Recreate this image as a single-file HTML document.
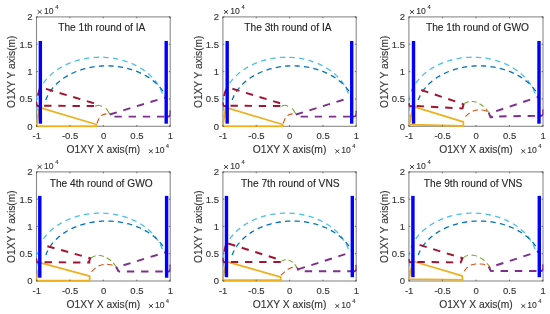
<!DOCTYPE html>
<html><head><meta charset="utf-8"><style>
html,body{margin:0;padding:0;background:#fff;}
svg{display:block;filter:blur(0.3px);}
text{stroke:#333;stroke-width:0.12px;}
</style></head><body>
<svg width="550" height="314" viewBox="0 0 550 314" style="font-family:'Liberation Sans',sans-serif;">
<defs><clipPath id="clip0"><rect x="-0.4" y="-1.2" width="134.50" height="111.80"/></clipPath><clipPath id="clip1"><rect x="-0.4" y="-1.2" width="134.10" height="111.80"/></clipPath><clipPath id="clip2"><rect x="-0.4" y="-1.2" width="134.90" height="111.80"/></clipPath><clipPath id="clip3"><rect x="-0.4" y="-1.2" width="134.50" height="111.50"/></clipPath><clipPath id="clip4"><rect x="-0.4" y="-1.2" width="134.10" height="111.50"/></clipPath><clipPath id="clip5"><rect x="-0.4" y="-1.2" width="134.90" height="111.50"/></clipPath></defs>
<rect width="550" height="314" fill="#fff"/>
<g transform="translate(36.50 16.90)">
<rect x="0" y="0" width="133.70" height="109.40" fill="none" stroke="#8a8a8a" stroke-width="1.1"/>
<g clip-path="url(#clip0)"><g transform="scale(1.0000 1.0000)">
<path d="M0.80 99.50 L0.55 92.00 L0.25 86.00 L-0.08 82.17 L0.29 80.48 L0.74 78.79 L1.27 77.12 L1.87 75.47 L2.55 73.83 L3.31 72.21 L4.13 70.61 L5.04 69.03 L6.01 67.48 L7.05 65.96 L8.17 64.46 L9.35 63.00 L10.60 61.57 L11.91 60.17 L13.28 58.81 L14.72 57.48 L16.22 56.20 L17.78 54.95 L19.39 53.75 L21.06 52.59 L22.78 51.48 L24.54 50.41 L26.36 49.39 L28.22 48.42 L30.13 47.50 L32.08 46.64 L34.06 45.82 L36.09 45.06 L38.14 44.35 L40.23 43.70 L42.35 43.10 L44.49 42.56 L46.65 42.08 L48.84 41.65 L51.04 41.29 L53.26 40.98 L55.50 40.73 L57.74 40.55 L59.99 40.42 L62.24 40.35 L64.50 40.34 L66.76 40.40 L69.01 40.51 L71.25 40.68 L73.49 40.92 L75.71 41.21 L77.92 41.56 L80.11 41.97 L82.28 42.44 L84.43 42.96 L86.55 43.55 L88.65 44.18 L90.71 44.88 L92.74 45.63 L94.74 46.43 L96.69 47.29 L98.61 48.19 L100.48 49.15 L102.31 50.16 L104.09 51.21 L105.83 52.31 L107.51 53.46 L109.13 54.65 L110.70 55.89 L112.21 57.16 L113.67 58.48 L115.06 59.83 L116.39 61.22 L117.65 62.64 L118.85 64.10 L119.98 65.59 L121.04 67.11 L122.03 68.65 L122.95 70.22 L123.80 71.81 L124.57 73.43 L125.27 75.06 L125.89 76.71 L126.44 78.38 L126.91 80.06" fill="none" stroke="#4DBEEE" stroke-width="1.3" stroke-linejoin="round" stroke-linecap="butt" stroke-dasharray="5.4 4.3" stroke-dashoffset="3.9479817003586017"/>
<path d="M9.33 83.08 L9.85 81.69 L10.43 80.32 L11.07 78.95 L11.77 77.61 L12.53 76.28 L13.35 74.97 L14.22 73.67 L15.16 72.40 L16.15 71.15 L17.19 69.93 L18.28 68.73 L19.43 67.55 L20.63 66.40 L21.88 65.28 L23.18 64.19 L24.53 63.13 L25.92 62.10 L27.36 61.10 L28.84 60.14 L30.36 59.21 L31.92 58.32 L33.53 57.46 L35.16 56.64 L36.84 55.85 L38.55 55.11 L40.28 54.41 L42.05 53.74 L43.85 53.12 L45.68 52.54 L47.53 52.00 L49.40 51.50 L51.29 51.05 L53.20 50.64 L55.13 50.27 L57.08 49.95 L59.03 49.67 L61.00 49.44 L62.98 49.25 L64.97 49.11 L66.96 49.02 L68.95 48.97 L70.95 48.96 L72.94 49.01 L74.93 49.09 L76.92 49.23 L78.90 49.40 L80.87 49.63 L82.83 49.90 L84.77 50.21 L86.71 50.57 L88.62 50.97 L90.52 51.42 L92.39 51.90 L94.25 52.44 L96.08 53.01 L97.88 53.63 L99.65 54.28 L101.40 54.98 L103.11 55.72 L104.79 56.49 L106.44 57.31 L108.05 58.16 L109.62 59.04 L111.15 59.97 L112.63 60.92 L114.08 61.92 L115.48 62.94 L116.84 63.99 L118.14 65.08 L119.40 66.20 L120.61 67.34 L121.77 68.51 L122.88 69.71 L123.93 70.93 L124.93 72.17 L125.87 73.44 L126.76 74.73 L127.58 76.04 L128.36 77.36 L129.07 78.71" fill="none" stroke="#0072BD" stroke-width="1.3" stroke-linejoin="round" stroke-linecap="butt" stroke-dasharray="5.3 4.2" stroke-dashoffset="0.28"/>
<path d="M0.00 109.40 L2.70 90.50 L59.90 107.60 L60.10 109.40 L0.00 109.40" fill="none" stroke="#EDB120" stroke-width="1.8" stroke-linejoin="round" stroke-linecap="butt"/>
<path d="M57.40 86.30 L3.85 70.30" fill="none" stroke="#A2142F" stroke-width="1.95" stroke-linejoin="round" stroke-linecap="butt" stroke-dasharray="7.4 6.8" stroke-dashoffset="0"/>
<path d="M58.50 89.20 L3.85 88.80" fill="none" stroke="#A2142F" stroke-width="1.95" stroke-linejoin="round" stroke-linecap="butt" stroke-dasharray="7.4 6.8" stroke-dashoffset="-0.9"/>
<path d="M3.85 88.80 C3.38 88.83 1.66 89.42 1.00 89.00 C0.34 88.58 0.03 87.25 -0.10 86.30 C-0.23 85.35 -0.03 84.55 0.20 83.30 C0.43 82.05 0.97 80.13 1.30 78.80 C1.63 77.47 1.78 76.72 2.20 75.30 C2.62 73.88 3.58 71.13 3.85 70.30" fill="none" stroke="#A2142F" stroke-width="1.95" stroke-linejoin="round" stroke-linecap="butt" stroke-dasharray="7.5 6" stroke-dashoffset="0"/>
<path d="M58.70 89.20 C59.35 89.07 61.38 88.30 62.60 88.40 C63.82 88.50 64.78 89.20 66.00 89.80 C67.22 90.40 68.70 90.75 69.90 92.00 C71.10 93.25 72.65 96.42 73.20 97.30" fill="none" stroke="#77AC30" stroke-width="1.1" stroke-linejoin="round" stroke-linecap="butt" stroke-dasharray="7.06 4.36" stroke-dashoffset="0"/>
<path d="M60.40 106.50 C60.97 105.33 62.32 101.08 63.80 99.50 C65.28 97.92 67.73 97.32 69.30 97.00 C70.87 96.68 72.55 97.50 73.20 97.60" fill="none" stroke="#D95319" stroke-width="1.1" stroke-linejoin="round" stroke-linecap="butt" stroke-dasharray="5.5 3.5" stroke-dashoffset="0"/>
<path d="M73.20 97.60 L129.70 80.30" fill="none" stroke="#7E2F8E" stroke-width="1.95" stroke-linejoin="round" stroke-linecap="butt" stroke-dasharray="7.4 6.8" stroke-dashoffset="0"/>
<path d="M77.90 99.70 L129.70 99.70" fill="none" stroke="#7E2F8E" stroke-width="1.95" stroke-linejoin="round" stroke-linecap="butt" stroke-dasharray="7.4 6.8" stroke-dashoffset="0"/>
<path d="M129.70 99.70 C130.22 99.65 132.08 99.93 132.80 99.40 C133.52 98.87 133.90 97.78 134.00 96.50 C134.10 95.22 133.68 93.32 133.40 91.70 C133.12 90.08 132.63 88.20 132.30 86.80 C131.97 85.40 131.83 84.38 131.40 83.30 C130.97 82.22 129.98 80.80 129.70 80.30" fill="none" stroke="#7E2F8E" stroke-width="1.95" stroke-linejoin="round" stroke-linecap="butt" stroke-dasharray="9.5 30" stroke-dashoffset="0"/>
<rect x="2.15" y="24.05" width="3.4" height="82.75" fill="#0000ff"/>
<rect x="128.00" y="24.05" width="3.4" height="82.75" fill="#0000ff"/>
</g></g>
<path d="M0.00 109.40 V108.00 M0.00 0 V1.4 M0 0.00 H1.4 M133.70 0.00 H132.30" stroke="#444" stroke-width="0.7"/>
<path d="M33.42 109.40 V108.00 M33.42 0 V1.4 M0 27.35 H1.4 M133.70 27.35 H132.30" stroke="#444" stroke-width="0.7"/>
<path d="M66.85 109.40 V108.00 M66.85 0 V1.4 M0 54.70 H1.4 M133.70 54.70 H132.30" stroke="#444" stroke-width="0.7"/>
<path d="M100.27 109.40 V108.00 M100.27 0 V1.4 M0 82.05 H1.4 M133.70 82.05 H132.30" stroke="#444" stroke-width="0.7"/>
<path d="M133.70 109.40 V108.00 M133.70 0 V1.4 M0 109.40 H1.4 M133.70 109.40 H132.30" stroke="#444" stroke-width="0.7"/>
<text x="0.20" y="122.30" text-anchor="middle" font-size="9.5" fill="#333333">-1</text>
<text x="33.62" y="122.30" text-anchor="middle" font-size="9.5" fill="#333333">-0.5</text>
<text x="67.05" y="122.30" text-anchor="middle" font-size="9.5" fill="#333333">0</text>
<text x="100.47" y="122.30" text-anchor="middle" font-size="9.5" fill="#333333">0.5</text>
<text x="133.90" y="122.30" text-anchor="middle" font-size="9.5" fill="#333333">1</text>
<text x="-3.90" y="112.80" text-anchor="end" font-size="9.5" fill="#333333">0</text>
<text x="-3.90" y="85.45" text-anchor="end" font-size="9.5" fill="#333333">0.5</text>
<text x="-3.90" y="58.10" text-anchor="end" font-size="9.5" fill="#333333">1</text>
<text x="-3.90" y="30.75" text-anchor="end" font-size="9.5" fill="#333333">1.5</text>
<text x="-3.90" y="3.40" text-anchor="end" font-size="9.5" fill="#333333">2</text>
<path d="M1.10 -6.80 L5.10 -3.10 M1.10 -3.10 L5.10 -6.80" stroke="#333333" stroke-width="0.95" fill="none"/>
<text x="7.45" y="-2.80" font-size="8.6" fill="#333333">10</text>
<text x="18.70" y="-7.50" font-size="5.8" fill="#333333">4</text>
<path d="M112.40 132.55 L116.40 136.25 M112.40 136.25 L116.40 132.55" stroke="#333333" stroke-width="0.95" fill="none"/>
<text x="118.40" y="136.40" font-size="8.6" fill="#333333">10</text>
<text x="129.30" y="131.60" font-size="5.8" fill="#333333">4</text>
<text x="65.30" y="13.80" text-anchor="middle" font-size="10.2" fill="#222">The 1th round of IA</text>
<text x="66.85" y="136.40" text-anchor="middle" font-size="10.3" fill="#333333">O1XY X axis(m)</text>
<text transform="translate(-21.40 54.90) rotate(-90)" text-anchor="middle" font-size="10.2" fill="#333333">O1XY Y axis(m)</text>
</g>
<g transform="translate(222.90 16.90)">
<rect x="0" y="0" width="133.30" height="109.40" fill="none" stroke="#8a8a8a" stroke-width="1.1"/>
<g clip-path="url(#clip1)"><g transform="scale(0.9970 1.0000)">
<path d="M0.80 99.50 L0.55 92.00 L0.25 86.00 L-0.08 82.17 L0.29 80.48 L0.74 78.79 L1.27 77.12 L1.87 75.47 L2.55 73.83 L3.31 72.21 L4.13 70.61 L5.04 69.03 L6.01 67.48 L7.05 65.96 L8.17 64.46 L9.35 63.00 L10.60 61.57 L11.91 60.17 L13.28 58.81 L14.72 57.48 L16.22 56.20 L17.78 54.95 L19.39 53.75 L21.06 52.59 L22.78 51.48 L24.54 50.41 L26.36 49.39 L28.22 48.42 L30.13 47.50 L32.08 46.64 L34.06 45.82 L36.09 45.06 L38.14 44.35 L40.23 43.70 L42.35 43.10 L44.49 42.56 L46.65 42.08 L48.84 41.65 L51.04 41.29 L53.26 40.98 L55.50 40.73 L57.74 40.55 L59.99 40.42 L62.24 40.35 L64.50 40.34 L66.76 40.40 L69.01 40.51 L71.25 40.68 L73.49 40.92 L75.71 41.21 L77.92 41.56 L80.11 41.97 L82.28 42.44 L84.43 42.96 L86.55 43.55 L88.65 44.18 L90.71 44.88 L92.74 45.63 L94.74 46.43 L96.69 47.29 L98.61 48.19 L100.48 49.15 L102.31 50.16 L104.09 51.21 L105.83 52.31 L107.51 53.46 L109.13 54.65 L110.70 55.89 L112.21 57.16 L113.67 58.48 L115.06 59.83 L116.39 61.22 L117.65 62.64 L118.85 64.10 L119.98 65.59 L121.04 67.11 L122.03 68.65 L122.95 70.22 L123.80 71.81 L124.57 73.43 L125.27 75.06 L125.89 76.71 L126.44 78.38 L126.91 80.06" fill="none" stroke="#4DBEEE" stroke-width="1.3" stroke-linejoin="round" stroke-linecap="butt" stroke-dasharray="5.4 4.3" stroke-dashoffset="3.9479817003586017"/>
<path d="M9.33 83.08 L9.85 81.69 L10.43 80.32 L11.07 78.95 L11.77 77.61 L12.53 76.28 L13.35 74.97 L14.22 73.67 L15.16 72.40 L16.15 71.15 L17.19 69.93 L18.28 68.73 L19.43 67.55 L20.63 66.40 L21.88 65.28 L23.18 64.19 L24.53 63.13 L25.92 62.10 L27.36 61.10 L28.84 60.14 L30.36 59.21 L31.92 58.32 L33.53 57.46 L35.16 56.64 L36.84 55.85 L38.55 55.11 L40.28 54.41 L42.05 53.74 L43.85 53.12 L45.68 52.54 L47.53 52.00 L49.40 51.50 L51.29 51.05 L53.20 50.64 L55.13 50.27 L57.08 49.95 L59.03 49.67 L61.00 49.44 L62.98 49.25 L64.97 49.11 L66.96 49.02 L68.95 48.97 L70.95 48.96 L72.94 49.01 L74.93 49.09 L76.92 49.23 L78.90 49.40 L80.87 49.63 L82.83 49.90 L84.77 50.21 L86.71 50.57 L88.62 50.97 L90.52 51.42 L92.39 51.90 L94.25 52.44 L96.08 53.01 L97.88 53.63 L99.65 54.28 L101.40 54.98 L103.11 55.72 L104.79 56.49 L106.44 57.31 L108.05 58.16 L109.62 59.04 L111.15 59.97 L112.63 60.92 L114.08 61.92 L115.48 62.94 L116.84 63.99 L118.14 65.08 L119.40 66.20 L120.61 67.34 L121.77 68.51 L122.88 69.71 L123.93 70.93 L124.93 72.17 L125.87 73.44 L126.76 74.73 L127.58 76.04 L128.36 77.36 L129.07 78.71" fill="none" stroke="#0072BD" stroke-width="1.3" stroke-linejoin="round" stroke-linecap="butt" stroke-dasharray="5.3 4.2" stroke-dashoffset="0.28"/>
<path d="M0.00 109.40 L2.70 90.50 L59.90 107.60 L60.10 109.40 L0.00 109.40" fill="none" stroke="#EDB120" stroke-width="1.8" stroke-linejoin="round" stroke-linecap="butt"/>
<path d="M57.40 86.30 L4.30 70.30" fill="none" stroke="#A2142F" stroke-width="1.95" stroke-linejoin="round" stroke-linecap="butt" stroke-dasharray="7.4 6.8" stroke-dashoffset="0"/>
<path d="M58.50 89.20 L4.30 88.80" fill="none" stroke="#A2142F" stroke-width="1.95" stroke-linejoin="round" stroke-linecap="butt" stroke-dasharray="7.4 6.8" stroke-dashoffset="-0.9"/>
<path d="M4.30 88.80 C3.75 88.83 1.73 89.42 1.00 89.00 C0.27 88.58 0.03 87.25 -0.10 86.30 C-0.23 85.35 -0.03 84.55 0.20 83.30 C0.43 82.05 0.97 80.13 1.30 78.80 C1.63 77.47 1.70 76.72 2.20 75.30 C2.70 73.88 3.95 71.13 4.30 70.30" fill="none" stroke="#A2142F" stroke-width="1.95" stroke-linejoin="round" stroke-linecap="butt" stroke-dasharray="7.5 6" stroke-dashoffset="0"/>
<path d="M58.70 89.20 C59.35 89.07 61.38 88.30 62.60 88.40 C63.82 88.50 64.78 89.20 66.00 89.80 C67.22 90.40 68.70 90.75 69.90 92.00 C71.10 93.25 72.65 96.42 73.20 97.30" fill="none" stroke="#77AC30" stroke-width="1.1" stroke-linejoin="round" stroke-linecap="butt" stroke-dasharray="7.06 4.36" stroke-dashoffset="0"/>
<path d="M60.40 106.50 C60.97 105.33 62.32 101.08 63.80 99.50 C65.28 97.92 67.73 97.32 69.30 97.00 C70.87 96.68 72.55 97.50 73.20 97.60" fill="none" stroke="#D95319" stroke-width="1.1" stroke-linejoin="round" stroke-linecap="butt" stroke-dasharray="5.5 3.5" stroke-dashoffset="0"/>
<path d="M73.20 97.60 L129.20 80.30" fill="none" stroke="#7E2F8E" stroke-width="1.95" stroke-linejoin="round" stroke-linecap="butt" stroke-dasharray="7.4 6.8" stroke-dashoffset="0"/>
<path d="M77.90 99.70 L129.20 99.70" fill="none" stroke="#7E2F8E" stroke-width="1.95" stroke-linejoin="round" stroke-linecap="butt" stroke-dasharray="7.4 6.8" stroke-dashoffset="0"/>
<path d="M129.20 99.70 C129.80 99.65 132.00 99.93 132.80 99.40 C133.60 98.87 133.90 97.78 134.00 96.50 C134.10 95.22 133.68 93.32 133.40 91.70 C133.12 90.08 132.63 88.20 132.30 86.80 C131.97 85.40 131.92 84.38 131.40 83.30 C130.88 82.22 129.57 80.80 129.20 80.30" fill="none" stroke="#7E2F8E" stroke-width="1.95" stroke-linejoin="round" stroke-linecap="butt" stroke-dasharray="9.5 30" stroke-dashoffset="0"/>
<rect x="2.60" y="24.05" width="3.4" height="82.75" fill="#0000ff"/>
<rect x="127.50" y="24.05" width="3.4" height="82.75" fill="#0000ff"/>
</g></g>
<path d="M0.00 109.40 V108.00 M0.00 0 V1.4 M0 0.00 H1.4 M133.30 0.00 H131.90" stroke="#444" stroke-width="0.7"/>
<path d="M33.33 109.40 V108.00 M33.33 0 V1.4 M0 27.35 H1.4 M133.30 27.35 H131.90" stroke="#444" stroke-width="0.7"/>
<path d="M66.65 109.40 V108.00 M66.65 0 V1.4 M0 54.70 H1.4 M133.30 54.70 H131.90" stroke="#444" stroke-width="0.7"/>
<path d="M99.98 109.40 V108.00 M99.98 0 V1.4 M0 82.05 H1.4 M133.30 82.05 H131.90" stroke="#444" stroke-width="0.7"/>
<path d="M133.30 109.40 V108.00 M133.30 0 V1.4 M0 109.40 H1.4 M133.30 109.40 H131.90" stroke="#444" stroke-width="0.7"/>
<text x="0.20" y="122.30" text-anchor="middle" font-size="9.5" fill="#333333">-1</text>
<text x="33.53" y="122.30" text-anchor="middle" font-size="9.5" fill="#333333">-0.5</text>
<text x="66.85" y="122.30" text-anchor="middle" font-size="9.5" fill="#333333">0</text>
<text x="100.18" y="122.30" text-anchor="middle" font-size="9.5" fill="#333333">0.5</text>
<text x="133.50" y="122.30" text-anchor="middle" font-size="9.5" fill="#333333">1</text>
<text x="-3.90" y="112.80" text-anchor="end" font-size="9.5" fill="#333333">0</text>
<text x="-3.90" y="85.45" text-anchor="end" font-size="9.5" fill="#333333">0.5</text>
<text x="-3.90" y="58.10" text-anchor="end" font-size="9.5" fill="#333333">1</text>
<text x="-3.90" y="30.75" text-anchor="end" font-size="9.5" fill="#333333">1.5</text>
<text x="-3.90" y="3.40" text-anchor="end" font-size="9.5" fill="#333333">2</text>
<path d="M1.10 -6.80 L5.10 -3.10 M1.10 -3.10 L5.10 -6.80" stroke="#333333" stroke-width="0.95" fill="none"/>
<text x="7.45" y="-2.80" font-size="8.6" fill="#333333">10</text>
<text x="18.70" y="-7.50" font-size="5.8" fill="#333333">4</text>
<path d="M112.40 132.55 L116.40 136.25 M112.40 136.25 L116.40 132.55" stroke="#333333" stroke-width="0.95" fill="none"/>
<text x="118.40" y="136.40" font-size="8.6" fill="#333333">10</text>
<text x="129.30" y="131.60" font-size="5.8" fill="#333333">4</text>
<text x="65.00" y="13.80" text-anchor="middle" font-size="10.2" fill="#222">The 3th round of IA</text>
<text x="66.65" y="136.40" text-anchor="middle" font-size="10.3" fill="#333333">O1XY X axis(m)</text>
<text transform="translate(-21.40 54.90) rotate(-90)" text-anchor="middle" font-size="10.2" fill="#333333">O1XY Y axis(m)</text>
</g>
<g transform="translate(408.90 16.90)">
<rect x="0" y="0" width="134.10" height="109.40" fill="none" stroke="#8a8a8a" stroke-width="1.1"/>
<g clip-path="url(#clip2)"><g transform="scale(1.0030 1.0000)">
<path d="M0.80 99.50 L0.55 92.00 L0.25 86.00 L-0.08 82.17 L0.29 80.48 L0.74 78.79 L1.27 77.12 L1.87 75.47 L2.55 73.83 L3.31 72.21 L4.13 70.61 L5.04 69.03 L6.01 67.48 L7.05 65.96 L8.17 64.46 L9.35 63.00 L10.60 61.57 L11.91 60.17 L13.28 58.81 L14.72 57.48 L16.22 56.20 L17.78 54.95 L19.39 53.75 L21.06 52.59 L22.78 51.48 L24.54 50.41 L26.36 49.39 L28.22 48.42 L30.13 47.50 L32.08 46.64 L34.06 45.82 L36.09 45.06 L38.14 44.35 L40.23 43.70 L42.35 43.10 L44.49 42.56 L46.65 42.08 L48.84 41.65 L51.04 41.29 L53.26 40.98 L55.50 40.73 L57.74 40.55 L59.99 40.42 L62.24 40.35 L64.50 40.34 L66.76 40.40 L69.01 40.51 L71.25 40.68 L73.49 40.92 L75.71 41.21 L77.92 41.56 L80.11 41.97 L82.28 42.44 L84.43 42.96 L86.55 43.55 L88.65 44.18 L90.71 44.88 L92.74 45.63 L94.74 46.43 L96.69 47.29 L98.61 48.19 L100.48 49.15 L102.31 50.16 L104.09 51.21 L105.83 52.31 L107.51 53.46 L109.13 54.65 L110.70 55.89 L112.21 57.16 L113.67 58.48 L115.06 59.83 L116.39 61.22 L117.65 62.64 L118.85 64.10 L119.98 65.59 L121.04 67.11 L122.03 68.65 L122.95 70.22 L123.80 71.81 L124.57 73.43 L125.27 75.06 L125.89 76.71 L126.44 78.38 L126.91 80.06" fill="none" stroke="#4DBEEE" stroke-width="1.3" stroke-linejoin="round" stroke-linecap="butt" stroke-dasharray="5.4 4.3" stroke-dashoffset="3.9479817003586017"/>
<path d="M9.33 83.08 L9.85 81.69 L10.43 80.32 L11.07 78.95 L11.77 77.61 L12.53 76.28 L13.35 74.97 L14.22 73.67 L15.16 72.40 L16.15 71.15 L17.19 69.93 L18.28 68.73 L19.43 67.55 L20.63 66.40 L21.88 65.28 L23.18 64.19 L24.53 63.13 L25.92 62.10 L27.36 61.10 L28.84 60.14 L30.36 59.21 L31.92 58.32 L33.53 57.46 L35.16 56.64 L36.84 55.85 L38.55 55.11 L40.28 54.41 L42.05 53.74 L43.85 53.12 L45.68 52.54 L47.53 52.00 L49.40 51.50 L51.29 51.05 L53.20 50.64 L55.13 50.27 L57.08 49.95 L59.03 49.67 L61.00 49.44 L62.98 49.25 L64.97 49.11 L66.96 49.02 L68.95 48.97 L70.95 48.96 L72.94 49.01 L74.93 49.09 L76.92 49.23 L78.90 49.40 L80.87 49.63 L82.83 49.90 L84.77 50.21 L86.71 50.57 L88.62 50.97 L90.52 51.42 L92.39 51.90 L94.25 52.44 L96.08 53.01 L97.88 53.63 L99.65 54.28 L101.40 54.98 L103.11 55.72 L104.79 56.49 L106.44 57.31 L108.05 58.16 L109.62 59.04 L111.15 59.97 L112.63 60.92 L114.08 61.92 L115.48 62.94 L116.84 63.99 L118.14 65.08 L119.40 66.20 L120.61 67.34 L121.77 68.51 L122.88 69.71 L123.93 70.93 L124.93 72.17 L125.87 73.44 L126.76 74.73 L127.58 76.04 L128.36 77.36 L129.07 78.71" fill="none" stroke="#0072BD" stroke-width="1.3" stroke-linejoin="round" stroke-linecap="butt" stroke-dasharray="5.3 4.2" stroke-dashoffset="0.28"/>
<path d="M0.50 107.70 L3.90 89.40 L54.30 105.00 L54.30 109.10 L0.50 107.70" fill="none" stroke="#EDB120" stroke-width="1.8" stroke-linejoin="round" stroke-linecap="butt"/>
<path d="M54.60 86.80 L53.40 92.00" fill="none" stroke="#A2142F" stroke-width="1.95" stroke-linejoin="round" stroke-linecap="butt"/>
<path d="M54.30 87.20 L4.60 70.45" fill="none" stroke="#A2142F" stroke-width="1.95" stroke-linejoin="round" stroke-linecap="butt" stroke-dasharray="7.4 6.8" stroke-dashoffset="5.7"/>
<path d="M53.60 91.60 L4.60 88.90" fill="none" stroke="#A2142F" stroke-width="1.95" stroke-linejoin="round" stroke-linecap="butt" stroke-dasharray="7.4 6.8" stroke-dashoffset="4.1"/>
<path d="M4.60 88.90 C4.00 88.95 1.80 89.67 1.00 89.20 C0.20 88.73 -0.08 87.15 -0.20 86.10 C-0.32 85.05 -0.13 84.02 0.30 82.90 C0.73 81.78 1.82 80.64 2.40 79.40 C2.98 78.16 3.43 76.94 3.80 75.45 C4.17 73.96 4.47 71.28 4.60 70.45" fill="none" stroke="#A2142F" stroke-width="1.95" stroke-linejoin="round" stroke-linecap="butt" stroke-dasharray="6.8 20" stroke-dashoffset="0"/>
<path d="M55.10 86.60 C55.75 86.33 57.58 85.33 59.00 85.00 C60.42 84.67 62.02 84.47 63.60 84.60 C65.18 84.73 66.92 85.13 68.50 85.80 C70.08 86.47 71.68 87.57 73.10 88.60 C74.52 89.63 75.92 90.83 77.00 92.00 C78.08 93.17 79.17 95.00 79.60 95.60" fill="none" stroke="#77AC30" stroke-width="1.1" stroke-linejoin="round" stroke-linecap="butt" stroke-dasharray="4.94 3.06" stroke-dashoffset="0"/>
<path d="M56.40 99.70 C57.00 99.17 58.73 97.42 60.00 96.50 C61.27 95.58 62.65 94.77 64.00 94.20 C65.35 93.63 66.68 93.28 68.10 93.10 C69.52 92.92 71.07 92.97 72.50 93.10 C73.93 93.23 75.52 93.40 76.70 93.90 C77.88 94.40 79.12 95.73 79.60 96.10" fill="none" stroke="#D95319" stroke-width="1.1" stroke-linejoin="round" stroke-linecap="butt" stroke-dasharray="5.5 3.5" stroke-dashoffset="0"/>
<path d="M79.60 95.70 L81.40 100.40 L84.00 100.20" fill="none" stroke="#7E2F8E" stroke-width="1.95" stroke-linejoin="round" stroke-linecap="butt"/>
<path d="M80.40 96.50 L129.70 79.80" fill="none" stroke="#7E2F8E" stroke-width="1.95" stroke-linejoin="round" stroke-linecap="butt" stroke-dasharray="7.4 6.8" stroke-dashoffset="7.2"/>
<path d="M81.20 99.70 L129.70 98.90" fill="none" stroke="#7E2F8E" stroke-width="1.95" stroke-linejoin="round" stroke-linecap="butt" stroke-dasharray="7.4 6.8" stroke-dashoffset="5.4"/>
<path d="M129.70 98.90 C130.22 98.85 132.08 99.13 132.80 98.60 C133.52 98.07 133.90 96.98 134.00 95.70 C134.10 94.42 133.68 92.47 133.40 90.90 C133.12 89.33 132.63 87.65 132.30 86.30 C131.97 84.95 131.83 83.88 131.40 82.80 C130.97 81.72 129.98 80.30 129.70 79.80" fill="none" stroke="#7E2F8E" stroke-width="1.95" stroke-linejoin="round" stroke-linecap="butt" stroke-dasharray="9.5 30" stroke-dashoffset="0"/>
<rect x="2.90" y="24.05" width="3.4" height="82.75" fill="#0000ff"/>
<rect x="128.00" y="24.05" width="3.4" height="82.75" fill="#0000ff"/>
</g></g>
<path d="M0.00 109.40 V108.00 M0.00 0 V1.4 M0 0.00 H1.4 M134.10 0.00 H132.70" stroke="#444" stroke-width="0.7"/>
<path d="M33.52 109.40 V108.00 M33.52 0 V1.4 M0 27.35 H1.4 M134.10 27.35 H132.70" stroke="#444" stroke-width="0.7"/>
<path d="M67.05 109.40 V108.00 M67.05 0 V1.4 M0 54.70 H1.4 M134.10 54.70 H132.70" stroke="#444" stroke-width="0.7"/>
<path d="M100.57 109.40 V108.00 M100.57 0 V1.4 M0 82.05 H1.4 M134.10 82.05 H132.70" stroke="#444" stroke-width="0.7"/>
<path d="M134.10 109.40 V108.00 M134.10 0 V1.4 M0 109.40 H1.4 M134.10 109.40 H132.70" stroke="#444" stroke-width="0.7"/>
<text x="0.20" y="122.30" text-anchor="middle" font-size="9.5" fill="#333333">-1</text>
<text x="33.73" y="122.30" text-anchor="middle" font-size="9.5" fill="#333333">-0.5</text>
<text x="67.25" y="122.30" text-anchor="middle" font-size="9.5" fill="#333333">0</text>
<text x="100.77" y="122.30" text-anchor="middle" font-size="9.5" fill="#333333">0.5</text>
<text x="134.30" y="122.30" text-anchor="middle" font-size="9.5" fill="#333333">1</text>
<text x="-3.90" y="112.80" text-anchor="end" font-size="9.5" fill="#333333">0</text>
<text x="-3.90" y="85.45" text-anchor="end" font-size="9.5" fill="#333333">0.5</text>
<text x="-3.90" y="58.10" text-anchor="end" font-size="9.5" fill="#333333">1</text>
<text x="-3.90" y="30.75" text-anchor="end" font-size="9.5" fill="#333333">1.5</text>
<text x="-3.90" y="3.40" text-anchor="end" font-size="9.5" fill="#333333">2</text>
<path d="M1.10 -6.80 L5.10 -3.10 M1.10 -3.10 L5.10 -6.80" stroke="#333333" stroke-width="0.95" fill="none"/>
<text x="7.45" y="-2.80" font-size="8.6" fill="#333333">10</text>
<text x="18.70" y="-7.50" font-size="5.8" fill="#333333">4</text>
<path d="M112.40 132.55 L116.40 136.25 M112.40 136.25 L116.40 132.55" stroke="#333333" stroke-width="0.95" fill="none"/>
<text x="118.40" y="136.40" font-size="8.6" fill="#333333">10</text>
<text x="129.30" y="131.60" font-size="5.8" fill="#333333">4</text>
<text x="68.60" y="13.80" text-anchor="middle" font-size="10.2" fill="#222">The 1th round of GWO</text>
<text x="67.05" y="136.40" text-anchor="middle" font-size="10.3" fill="#333333">O1XY X axis(m)</text>
<text transform="translate(-21.40 54.90) rotate(-90)" text-anchor="middle" font-size="10.2" fill="#333333">O1XY Y axis(m)</text>
</g>
<g transform="translate(36.50 171.90)">
<rect x="0" y="0" width="133.70" height="109.10" fill="none" stroke="#8a8a8a" stroke-width="1.1"/>
<g clip-path="url(#clip3)"><g transform="scale(1.0000 0.9973)">
<path d="M0.80 100.50 L0.55 93.00 L0.25 87.00 L-0.08 83.17 L0.29 81.48 L0.74 79.79 L1.27 78.12 L1.87 76.47 L2.55 74.83 L3.31 73.21 L4.13 71.61 L5.04 70.03 L6.01 68.48 L7.05 66.96 L8.17 65.46 L9.35 64.00 L10.60 62.57 L11.91 61.17 L13.28 59.81 L14.72 58.48 L16.22 57.20 L17.78 55.95 L19.39 54.75 L21.06 53.59 L22.78 52.48 L24.54 51.41 L26.36 50.39 L28.22 49.42 L30.13 48.50 L32.08 47.64 L34.06 46.82 L36.09 46.06 L38.14 45.35 L40.23 44.70 L42.35 44.10 L44.49 43.56 L46.65 43.08 L48.84 42.65 L51.04 42.29 L53.26 41.98 L55.50 41.73 L57.74 41.55 L59.99 41.42 L62.24 41.35 L64.50 41.34 L66.76 41.40 L69.01 41.51 L71.25 41.68 L73.49 41.92 L75.71 42.21 L77.92 42.56 L80.11 42.97 L82.28 43.44 L84.43 43.96 L86.55 44.55 L88.65 45.18 L90.71 45.88 L92.74 46.63 L94.74 47.43 L96.69 48.29 L98.61 49.19 L100.48 50.15 L102.31 51.16 L104.09 52.21 L105.83 53.31 L107.51 54.46 L109.13 55.65 L110.70 56.89 L112.21 58.16 L113.67 59.48 L115.06 60.83 L116.39 62.22 L117.65 63.64 L118.85 65.10 L119.98 66.59 L121.04 68.11 L122.03 69.65 L122.95 71.22 L123.80 72.81 L124.57 74.43 L125.27 76.06 L125.89 77.71 L126.44 79.38 L126.91 81.06" fill="none" stroke="#4DBEEE" stroke-width="1.3" stroke-linejoin="round" stroke-linecap="butt" stroke-dasharray="5.4 4.3" stroke-dashoffset="3.9479817003586017"/>
<path d="M9.33 83.38 L9.85 81.99 L10.43 80.62 L11.07 79.25 L11.77 77.91 L12.53 76.58 L13.35 75.27 L14.22 73.97 L15.16 72.70 L16.15 71.45 L17.19 70.23 L18.28 69.03 L19.43 67.85 L20.63 66.70 L21.88 65.58 L23.18 64.49 L24.53 63.43 L25.92 62.40 L27.36 61.40 L28.84 60.44 L30.36 59.51 L31.92 58.62 L33.53 57.76 L35.16 56.94 L36.84 56.15 L38.55 55.41 L40.28 54.71 L42.05 54.04 L43.85 53.42 L45.68 52.84 L47.53 52.30 L49.40 51.80 L51.29 51.35 L53.20 50.94 L55.13 50.57 L57.08 50.25 L59.03 49.97 L61.00 49.74 L62.98 49.55 L64.97 49.41 L66.96 49.32 L68.95 49.27 L70.95 49.26 L72.94 49.31 L74.93 49.39 L76.92 49.53 L78.90 49.70 L80.87 49.93 L82.83 50.20 L84.77 50.51 L86.71 50.87 L88.62 51.27 L90.52 51.72 L92.39 52.20 L94.25 52.74 L96.08 53.31 L97.88 53.93 L99.65 54.58 L101.40 55.28 L103.11 56.02 L104.79 56.79 L106.44 57.61 L108.05 58.46 L109.62 59.34 L111.15 60.27 L112.63 61.22 L114.08 62.22 L115.48 63.24 L116.84 64.29 L118.14 65.38 L119.40 66.50 L120.61 67.64 L121.77 68.81 L122.88 70.01 L123.93 71.23 L124.93 72.47 L125.87 73.74 L126.76 75.03 L127.58 76.34 L128.36 77.66 L129.07 79.01" fill="none" stroke="#0072BD" stroke-width="1.3" stroke-linejoin="round" stroke-linecap="butt" stroke-dasharray="5.3 4.2" stroke-dashoffset="0.28"/>
<path d="M-0.30 109.00 L3.40 91.00 L53.20 104.60 L53.20 108.70 L-0.30 109.00" fill="none" stroke="#EDB120" stroke-width="1.8" stroke-linejoin="round" stroke-linecap="butt"/>
<path d="M53.90 85.80 L52.20 91.10" fill="none" stroke="#A2142F" stroke-width="1.95" stroke-linejoin="round" stroke-linecap="butt"/>
<path d="M53.80 86.60 L3.30 72.40" fill="none" stroke="#A2142F" stroke-width="1.95" stroke-linejoin="round" stroke-linecap="butt" stroke-dasharray="7.4 6.8" stroke-dashoffset="5.4"/>
<path d="M53.80 90.90 L3.30 90.50" fill="none" stroke="#A2142F" stroke-width="1.95" stroke-linejoin="round" stroke-linecap="butt" stroke-dasharray="7.4 6.8" stroke-dashoffset="4.3"/>
<path d="M3.30 90.50 C2.92 90.55 1.58 91.27 1.00 90.80 C0.42 90.33 -0.08 88.75 -0.20 87.70 C-0.32 86.65 -0.13 85.62 0.30 84.50 C0.73 83.38 2.03 82.18 2.40 81.00 C2.77 79.82 2.35 78.83 2.50 77.40 C2.65 75.97 3.17 73.23 3.30 72.40" fill="none" stroke="#A2142F" stroke-width="1.95" stroke-linejoin="round" stroke-linecap="butt" stroke-dasharray="6.8 20" stroke-dashoffset="0"/>
<path d="M54.40 86.20 C55.08 85.88 57.03 84.68 58.50 84.30 C59.97 83.92 61.58 83.77 63.20 83.90 C64.82 84.03 66.58 84.43 68.20 85.10 C69.82 85.77 71.45 86.85 72.90 87.90 C74.35 88.95 75.75 90.17 76.90 91.40 C78.05 92.63 79.32 94.65 79.80 95.30" fill="none" stroke="#77AC30" stroke-width="1.1" stroke-linejoin="round" stroke-linecap="butt" stroke-dasharray="5.14 3.18" stroke-dashoffset="0"/>
<path d="M55.00 100.10 C55.70 99.45 57.83 97.25 59.20 96.20 C60.57 95.15 61.82 94.37 63.20 93.80 C64.58 93.23 66.03 92.97 67.50 92.80 C68.97 92.63 70.55 92.67 72.00 92.80 C73.45 92.93 74.90 93.08 76.20 93.60 C77.50 94.12 79.20 95.52 79.80 95.90" fill="none" stroke="#D95319" stroke-width="1.1" stroke-linejoin="round" stroke-linecap="butt" stroke-dasharray="5.5 3.5" stroke-dashoffset="0"/>
<path d="M79.80 95.30 L82.20 100.10" fill="none" stroke="#7E2F8E" stroke-width="1.95" stroke-linejoin="round" stroke-linecap="butt"/>
<path d="M80.00 95.80 L130.10 80.30" fill="none" stroke="#7E2F8E" stroke-width="1.95" stroke-linejoin="round" stroke-linecap="butt" stroke-dasharray="7.4 6.8" stroke-dashoffset="6.9"/>
<path d="M82.20 99.80 L130.10 99.80" fill="none" stroke="#7E2F8E" stroke-width="1.95" stroke-linejoin="round" stroke-linecap="butt" stroke-dasharray="7.4 6.8" stroke-dashoffset="6.0"/>
<path d="M130.10 99.80 C130.55 99.75 132.15 100.03 132.80 99.50 C133.45 98.97 133.90 97.88 134.00 96.60 C134.10 95.32 133.68 93.43 133.40 91.80 C133.12 90.17 132.63 88.22 132.30 86.80 C131.97 85.38 131.77 84.38 131.40 83.30 C131.03 82.22 130.32 80.80 130.10 80.30" fill="none" stroke="#7E2F8E" stroke-width="1.95" stroke-linejoin="round" stroke-linecap="butt" stroke-dasharray="9.5 30" stroke-dashoffset="0"/>
<rect x="1.60" y="24.05" width="3.4" height="82.05" fill="#0000ff"/>
<rect x="128.40" y="24.05" width="3.4" height="82.05" fill="#0000ff"/>
</g></g>
<path d="M0.00 109.10 V107.70 M0.00 0 V1.4 M0 0.00 H1.4 M133.70 0.00 H132.30" stroke="#444" stroke-width="0.7"/>
<path d="M33.42 109.10 V107.70 M33.42 0 V1.4 M0 27.27 H1.4 M133.70 27.27 H132.30" stroke="#444" stroke-width="0.7"/>
<path d="M66.85 109.10 V107.70 M66.85 0 V1.4 M0 54.55 H1.4 M133.70 54.55 H132.30" stroke="#444" stroke-width="0.7"/>
<path d="M100.27 109.10 V107.70 M100.27 0 V1.4 M0 81.82 H1.4 M133.70 81.82 H132.30" stroke="#444" stroke-width="0.7"/>
<path d="M133.70 109.10 V107.70 M133.70 0 V1.4 M0 109.10 H1.4 M133.70 109.10 H132.30" stroke="#444" stroke-width="0.7"/>
<text x="0.20" y="122.00" text-anchor="middle" font-size="9.5" fill="#333333">-1</text>
<text x="33.62" y="122.00" text-anchor="middle" font-size="9.5" fill="#333333">-0.5</text>
<text x="67.05" y="122.00" text-anchor="middle" font-size="9.5" fill="#333333">0</text>
<text x="100.47" y="122.00" text-anchor="middle" font-size="9.5" fill="#333333">0.5</text>
<text x="133.90" y="122.00" text-anchor="middle" font-size="9.5" fill="#333333">1</text>
<text x="-3.90" y="112.50" text-anchor="end" font-size="9.5" fill="#333333">0</text>
<text x="-3.90" y="85.22" text-anchor="end" font-size="9.5" fill="#333333">0.5</text>
<text x="-3.90" y="57.95" text-anchor="end" font-size="9.5" fill="#333333">1</text>
<text x="-3.90" y="30.68" text-anchor="end" font-size="9.5" fill="#333333">1.5</text>
<text x="-3.90" y="3.40" text-anchor="end" font-size="9.5" fill="#333333">2</text>
<path d="M1.10 -6.80 L5.10 -3.10 M1.10 -3.10 L5.10 -6.80" stroke="#333333" stroke-width="0.95" fill="none"/>
<text x="7.45" y="-2.80" font-size="8.6" fill="#333333">10</text>
<text x="18.70" y="-7.50" font-size="5.8" fill="#333333">4</text>
<path d="M112.40 132.25 L116.40 135.95 M112.40 135.95 L116.40 132.25" stroke="#333333" stroke-width="0.95" fill="none"/>
<text x="118.40" y="136.10" font-size="8.6" fill="#333333">10</text>
<text x="129.30" y="131.30" font-size="5.8" fill="#333333">4</text>
<text x="64.70" y="15.50" text-anchor="middle" font-size="10.2" fill="#222">The 4th round of GWO</text>
<text x="66.85" y="136.10" text-anchor="middle" font-size="10.3" fill="#333333">O1XY X axis(m)</text>
<text transform="translate(-21.40 54.75) rotate(-90)" text-anchor="middle" font-size="10.2" fill="#333333">O1XY Y axis(m)</text>
</g>
<g transform="translate(222.90 171.90)">
<rect x="0" y="0" width="133.30" height="109.10" fill="none" stroke="#8a8a8a" stroke-width="1.1"/>
<g clip-path="url(#clip4)"><g transform="scale(0.9970 0.9973)">
<path d="M0.80 100.50 L0.55 93.00 L0.25 87.00 L-0.08 83.17 L0.29 81.48 L0.74 79.79 L1.27 78.12 L1.87 76.47 L2.55 74.83 L3.31 73.21 L4.13 71.61 L5.04 70.03 L6.01 68.48 L7.05 66.96 L8.17 65.46 L9.35 64.00 L10.60 62.57 L11.91 61.17 L13.28 59.81 L14.72 58.48 L16.22 57.20 L17.78 55.95 L19.39 54.75 L21.06 53.59 L22.78 52.48 L24.54 51.41 L26.36 50.39 L28.22 49.42 L30.13 48.50 L32.08 47.64 L34.06 46.82 L36.09 46.06 L38.14 45.35 L40.23 44.70 L42.35 44.10 L44.49 43.56 L46.65 43.08 L48.84 42.65 L51.04 42.29 L53.26 41.98 L55.50 41.73 L57.74 41.55 L59.99 41.42 L62.24 41.35 L64.50 41.34 L66.76 41.40 L69.01 41.51 L71.25 41.68 L73.49 41.92 L75.71 42.21 L77.92 42.56 L80.11 42.97 L82.28 43.44 L84.43 43.96 L86.55 44.55 L88.65 45.18 L90.71 45.88 L92.74 46.63 L94.74 47.43 L96.69 48.29 L98.61 49.19 L100.48 50.15 L102.31 51.16 L104.09 52.21 L105.83 53.31 L107.51 54.46 L109.13 55.65 L110.70 56.89 L112.21 58.16 L113.67 59.48 L115.06 60.83 L116.39 62.22 L117.65 63.64 L118.85 65.10 L119.98 66.59 L121.04 68.11 L122.03 69.65 L122.95 71.22 L123.80 72.81 L124.57 74.43 L125.27 76.06 L125.89 77.71 L126.44 79.38 L126.91 81.06" fill="none" stroke="#4DBEEE" stroke-width="1.3" stroke-linejoin="round" stroke-linecap="butt" stroke-dasharray="5.4 4.3" stroke-dashoffset="3.9479817003586017"/>
<path d="M9.33 83.38 L9.85 81.99 L10.43 80.62 L11.07 79.25 L11.77 77.91 L12.53 76.58 L13.35 75.27 L14.22 73.97 L15.16 72.70 L16.15 71.45 L17.19 70.23 L18.28 69.03 L19.43 67.85 L20.63 66.70 L21.88 65.58 L23.18 64.49 L24.53 63.43 L25.92 62.40 L27.36 61.40 L28.84 60.44 L30.36 59.51 L31.92 58.62 L33.53 57.76 L35.16 56.94 L36.84 56.15 L38.55 55.41 L40.28 54.71 L42.05 54.04 L43.85 53.42 L45.68 52.84 L47.53 52.30 L49.40 51.80 L51.29 51.35 L53.20 50.94 L55.13 50.57 L57.08 50.25 L59.03 49.97 L61.00 49.74 L62.98 49.55 L64.97 49.41 L66.96 49.32 L68.95 49.27 L70.95 49.26 L72.94 49.31 L74.93 49.39 L76.92 49.53 L78.90 49.70 L80.87 49.93 L82.83 50.20 L84.77 50.51 L86.71 50.87 L88.62 51.27 L90.52 51.72 L92.39 52.20 L94.25 52.74 L96.08 53.31 L97.88 53.93 L99.65 54.58 L101.40 55.28 L103.11 56.02 L104.79 56.79 L106.44 57.61 L108.05 58.46 L109.62 59.34 L111.15 60.27 L112.63 61.22 L114.08 62.22 L115.48 63.24 L116.84 64.29 L118.14 65.38 L119.40 66.50 L120.61 67.64 L121.77 68.81 L122.88 70.01 L123.93 71.23 L124.93 72.47 L125.87 73.74 L126.76 75.03 L127.58 76.34 L128.36 77.66 L129.07 79.01" fill="none" stroke="#0072BD" stroke-width="1.3" stroke-linejoin="round" stroke-linecap="butt" stroke-dasharray="5.3 4.2" stroke-dashoffset="0.28"/>
<path d="M-0.50 108.60 L3.60 89.90 L58.00 105.40 L58.00 108.40 L-0.50 108.60" fill="none" stroke="#EDB120" stroke-width="1.8" stroke-linejoin="round" stroke-linecap="butt"/>
<path d="M58.10 88.40 L3.60 71.30" fill="none" stroke="#A2142F" stroke-width="1.95" stroke-linejoin="round" stroke-linecap="butt" stroke-dasharray="7.4 6.8" stroke-dashoffset="8.9"/>
<path d="M58.60 90.30 L3.60 90.30" fill="none" stroke="#A2142F" stroke-width="1.95" stroke-linejoin="round" stroke-linecap="butt" stroke-dasharray="7.4 6.8" stroke-dashoffset="-0.6"/>
<path d="M3.60 90.30 C3.17 90.33 1.62 90.92 1.00 90.50 C0.38 90.08 0.03 88.75 -0.10 87.80 C-0.23 86.85 -0.03 86.05 0.20 84.80 C0.43 83.55 0.97 81.72 1.30 80.30 C1.63 78.88 1.82 77.80 2.20 76.30 C2.58 74.80 3.37 72.13 3.60 71.30" fill="none" stroke="#A2142F" stroke-width="1.95" stroke-linejoin="round" stroke-linecap="butt" stroke-dasharray="7.5 6" stroke-dashoffset="0"/>
<path d="M58.60 89.80 C59.05 89.55 60.32 88.60 61.30 88.30 C62.28 88.00 63.43 87.85 64.50 88.00 C65.57 88.15 66.53 88.53 67.70 89.20 C68.87 89.87 70.30 90.78 71.50 92.00 C72.70 93.22 74.33 95.75 74.90 96.50" fill="none" stroke="#77AC30" stroke-width="1.1" stroke-linejoin="round" stroke-linecap="butt" stroke-dasharray="4.76 2.94" stroke-dashoffset="0"/>
<path d="M58.00 103.80 C58.85 103.03 61.52 100.42 63.10 99.20 C64.68 97.98 66.03 97.10 67.50 96.50 C68.97 95.90 70.55 95.50 71.90 95.60 C73.25 95.70 74.98 96.85 75.60 97.10" fill="none" stroke="#D95319" stroke-width="1.1" stroke-linejoin="round" stroke-linecap="butt" stroke-dasharray="5.5 3.5" stroke-dashoffset="0"/>
<path d="M74.90 96.50 L75.60 98.90" fill="none" stroke="#7E2F8E" stroke-width="1.95" stroke-linejoin="round" stroke-linecap="butt"/>
<path d="M75.20 97.80 L129.80 80.20" fill="none" stroke="#7E2F8E" stroke-width="1.95" stroke-linejoin="round" stroke-linecap="butt" stroke-dasharray="7.4 6.8" stroke-dashoffset="0"/>
<path d="M75.60 99.60 L129.80 99.60" fill="none" stroke="#7E2F8E" stroke-width="1.95" stroke-linejoin="round" stroke-linecap="butt" stroke-dasharray="7.4 6.8" stroke-dashoffset="7.7"/>
<path d="M129.80 99.60 C130.30 99.55 132.10 99.83 132.80 99.30 C133.50 98.77 133.90 97.68 134.00 96.40 C134.10 95.12 133.68 93.22 133.40 91.60 C133.12 89.98 132.63 88.10 132.30 86.70 C131.97 85.30 131.82 84.28 131.40 83.20 C130.98 82.12 130.07 80.70 129.80 80.20" fill="none" stroke="#7E2F8E" stroke-width="1.95" stroke-linejoin="round" stroke-linecap="butt" stroke-dasharray="9.5 30" stroke-dashoffset="0"/>
<rect x="1.90" y="24.05" width="3.4" height="81.55" fill="#0000ff"/>
<rect x="128.10" y="24.05" width="3.4" height="81.55" fill="#0000ff"/>
</g></g>
<path d="M0.00 109.10 V107.70 M0.00 0 V1.4 M0 0.00 H1.4 M133.30 0.00 H131.90" stroke="#444" stroke-width="0.7"/>
<path d="M33.33 109.10 V107.70 M33.33 0 V1.4 M0 27.27 H1.4 M133.30 27.27 H131.90" stroke="#444" stroke-width="0.7"/>
<path d="M66.65 109.10 V107.70 M66.65 0 V1.4 M0 54.55 H1.4 M133.30 54.55 H131.90" stroke="#444" stroke-width="0.7"/>
<path d="M99.98 109.10 V107.70 M99.98 0 V1.4 M0 81.82 H1.4 M133.30 81.82 H131.90" stroke="#444" stroke-width="0.7"/>
<path d="M133.30 109.10 V107.70 M133.30 0 V1.4 M0 109.10 H1.4 M133.30 109.10 H131.90" stroke="#444" stroke-width="0.7"/>
<text x="0.20" y="122.00" text-anchor="middle" font-size="9.5" fill="#333333">-1</text>
<text x="33.53" y="122.00" text-anchor="middle" font-size="9.5" fill="#333333">-0.5</text>
<text x="66.85" y="122.00" text-anchor="middle" font-size="9.5" fill="#333333">0</text>
<text x="100.18" y="122.00" text-anchor="middle" font-size="9.5" fill="#333333">0.5</text>
<text x="133.50" y="122.00" text-anchor="middle" font-size="9.5" fill="#333333">1</text>
<text x="-3.90" y="112.50" text-anchor="end" font-size="9.5" fill="#333333">0</text>
<text x="-3.90" y="85.22" text-anchor="end" font-size="9.5" fill="#333333">0.5</text>
<text x="-3.90" y="57.95" text-anchor="end" font-size="9.5" fill="#333333">1</text>
<text x="-3.90" y="30.68" text-anchor="end" font-size="9.5" fill="#333333">1.5</text>
<text x="-3.90" y="3.40" text-anchor="end" font-size="9.5" fill="#333333">2</text>
<path d="M1.10 -6.80 L5.10 -3.10 M1.10 -3.10 L5.10 -6.80" stroke="#333333" stroke-width="0.95" fill="none"/>
<text x="7.45" y="-2.80" font-size="8.6" fill="#333333">10</text>
<text x="18.70" y="-7.50" font-size="5.8" fill="#333333">4</text>
<path d="M112.40 132.25 L116.40 135.95 M112.40 135.95 L116.40 132.25" stroke="#333333" stroke-width="0.95" fill="none"/>
<text x="118.40" y="136.10" font-size="8.6" fill="#333333">10</text>
<text x="129.30" y="131.30" font-size="5.8" fill="#333333">4</text>
<text x="67.40" y="15.50" text-anchor="middle" font-size="10.2" fill="#222">The 7th round of VNS</text>
<text x="66.65" y="136.10" text-anchor="middle" font-size="10.3" fill="#333333">O1XY X axis(m)</text>
<text transform="translate(-21.40 54.75) rotate(-90)" text-anchor="middle" font-size="10.2" fill="#333333">O1XY Y axis(m)</text>
</g>
<g transform="translate(408.90 171.90)">
<rect x="0" y="0" width="134.10" height="109.10" fill="none" stroke="#8a8a8a" stroke-width="1.1"/>
<g clip-path="url(#clip5)"><g transform="scale(1.0030 0.9973)">
<path d="M0.80 100.50 L0.55 93.00 L0.25 87.00 L-0.08 83.17 L0.29 81.48 L0.74 79.79 L1.27 78.12 L1.87 76.47 L2.55 74.83 L3.31 73.21 L4.13 71.61 L5.04 70.03 L6.01 68.48 L7.05 66.96 L8.17 65.46 L9.35 64.00 L10.60 62.57 L11.91 61.17 L13.28 59.81 L14.72 58.48 L16.22 57.20 L17.78 55.95 L19.39 54.75 L21.06 53.59 L22.78 52.48 L24.54 51.41 L26.36 50.39 L28.22 49.42 L30.13 48.50 L32.08 47.64 L34.06 46.82 L36.09 46.06 L38.14 45.35 L40.23 44.70 L42.35 44.10 L44.49 43.56 L46.65 43.08 L48.84 42.65 L51.04 42.29 L53.26 41.98 L55.50 41.73 L57.74 41.55 L59.99 41.42 L62.24 41.35 L64.50 41.34 L66.76 41.40 L69.01 41.51 L71.25 41.68 L73.49 41.92 L75.71 42.21 L77.92 42.56 L80.11 42.97 L82.28 43.44 L84.43 43.96 L86.55 44.55 L88.65 45.18 L90.71 45.88 L92.74 46.63 L94.74 47.43 L96.69 48.29 L98.61 49.19 L100.48 50.15 L102.31 51.16 L104.09 52.21 L105.83 53.31 L107.51 54.46 L109.13 55.65 L110.70 56.89 L112.21 58.16 L113.67 59.48 L115.06 60.83 L116.39 62.22 L117.65 63.64 L118.85 65.10 L119.98 66.59 L121.04 68.11 L122.03 69.65 L122.95 71.22 L123.80 72.81 L124.57 74.43 L125.27 76.06 L125.89 77.71 L126.44 79.38 L126.91 81.06" fill="none" stroke="#4DBEEE" stroke-width="1.3" stroke-linejoin="round" stroke-linecap="butt" stroke-dasharray="5.4 4.3" stroke-dashoffset="3.9479817003586017"/>
<path d="M9.33 83.38 L9.85 81.99 L10.43 80.62 L11.07 79.25 L11.77 77.91 L12.53 76.58 L13.35 75.27 L14.22 73.97 L15.16 72.70 L16.15 71.45 L17.19 70.23 L18.28 69.03 L19.43 67.85 L20.63 66.70 L21.88 65.58 L23.18 64.49 L24.53 63.43 L25.92 62.40 L27.36 61.40 L28.84 60.44 L30.36 59.51 L31.92 58.62 L33.53 57.76 L35.16 56.94 L36.84 56.15 L38.55 55.41 L40.28 54.71 L42.05 54.04 L43.85 53.42 L45.68 52.84 L47.53 52.30 L49.40 51.80 L51.29 51.35 L53.20 50.94 L55.13 50.57 L57.08 50.25 L59.03 49.97 L61.00 49.74 L62.98 49.55 L64.97 49.41 L66.96 49.32 L68.95 49.27 L70.95 49.26 L72.94 49.31 L74.93 49.39 L76.92 49.53 L78.90 49.70 L80.87 49.93 L82.83 50.20 L84.77 50.51 L86.71 50.87 L88.62 51.27 L90.52 51.72 L92.39 52.20 L94.25 52.74 L96.08 53.31 L97.88 53.93 L99.65 54.58 L101.40 55.28 L103.11 56.02 L104.79 56.79 L106.44 57.61 L108.05 58.46 L109.62 59.34 L111.15 60.27 L112.63 61.22 L114.08 62.22 L115.48 63.24 L116.84 64.29 L118.14 65.38 L119.40 66.50 L120.61 67.64 L121.77 68.81 L122.88 70.01 L123.93 71.23 L124.93 72.47 L125.87 73.74 L126.76 75.03 L127.58 76.34 L128.36 77.66 L129.07 79.01" fill="none" stroke="#0072BD" stroke-width="1.3" stroke-linejoin="round" stroke-linecap="butt" stroke-dasharray="5.3 4.2" stroke-dashoffset="0.28"/>
<path d="M0.00 107.50 L4.00 89.60 L53.20 104.30 L53.40 108.20 L0.00 107.50" fill="none" stroke="#EDB120" stroke-width="1.8" stroke-linejoin="round" stroke-linecap="butt"/>
<path d="M53.60 85.90 L51.60 90.90" fill="none" stroke="#A2142F" stroke-width="1.95" stroke-linejoin="round" stroke-linecap="butt"/>
<path d="M53.60 86.60 L4.00 71.10" fill="none" stroke="#A2142F" stroke-width="1.95" stroke-linejoin="round" stroke-linecap="butt" stroke-dasharray="7.4 6.8" stroke-dashoffset="5.0"/>
<path d="M52.10 90.80 L4.00 90.20" fill="none" stroke="#A2142F" stroke-width="1.95" stroke-linejoin="round" stroke-linecap="butt" stroke-dasharray="7.4 6.8" stroke-dashoffset="6.4"/>
<path d="M4.00 90.20 C3.50 90.25 1.70 90.97 1.00 90.50 C0.30 90.03 -0.08 88.45 -0.20 87.40 C-0.32 86.35 -0.13 85.32 0.30 84.20 C0.73 83.08 1.92 82.05 2.40 80.70 C2.88 79.35 2.93 77.70 3.20 76.10 C3.47 74.50 3.87 71.93 4.00 71.10" fill="none" stroke="#A2142F" stroke-width="1.95" stroke-linejoin="round" stroke-linecap="butt" stroke-dasharray="6.8 20" stroke-dashoffset="0"/>
<path d="M54.00 86.20 C54.70 85.80 56.48 84.23 58.20 83.80 C59.92 83.37 62.50 83.37 64.30 83.60 C66.10 83.83 67.40 84.50 69.00 85.20 C70.60 85.90 72.47 86.73 73.90 87.80 C75.33 88.87 76.38 90.25 77.60 91.60 C78.82 92.95 80.60 95.18 81.20 95.90" fill="none" stroke="#77AC30" stroke-width="1.1" stroke-linejoin="round" stroke-linecap="butt" stroke-dasharray="5.55 3.43" stroke-dashoffset="0"/>
<path d="M55.20 99.50 C55.70 98.88 57.07 96.83 58.20 95.80 C59.33 94.77 60.62 93.88 62.00 93.30 C63.38 92.72 65.12 92.45 66.50 92.30 C67.88 92.15 68.95 92.35 70.30 92.40 C71.65 92.45 73.18 92.32 74.60 92.60 C76.02 92.88 77.70 93.45 78.80 94.10 C79.90 94.75 80.80 96.10 81.20 96.50" fill="none" stroke="#D95319" stroke-width="1.1" stroke-linejoin="round" stroke-linecap="butt" stroke-dasharray="5.5 3.5" stroke-dashoffset="0"/>
<path d="M79.70 95.40 L82.00 100.00" fill="none" stroke="#7E2F8E" stroke-width="1.95" stroke-linejoin="round" stroke-linecap="butt"/>
<path d="M80.40 95.80 L130.00 79.60" fill="none" stroke="#7E2F8E" stroke-width="1.95" stroke-linejoin="round" stroke-linecap="butt" stroke-dasharray="7.4 6.8" stroke-dashoffset="7.1"/>
<path d="M82.00 99.30 L130.00 99.30" fill="none" stroke="#7E2F8E" stroke-width="1.95" stroke-linejoin="round" stroke-linecap="butt" stroke-dasharray="7.4 6.8" stroke-dashoffset="4.8"/>
<path d="M130.00 99.30 C130.47 99.25 132.13 99.53 132.80 99.00 C133.47 98.47 133.90 97.38 134.00 96.10 C134.10 94.82 133.68 92.97 133.40 91.30 C133.12 89.63 132.63 87.55 132.30 86.10 C131.97 84.65 131.78 83.68 131.40 82.60 C131.02 81.52 130.23 80.10 130.00 79.60" fill="none" stroke="#7E2F8E" stroke-width="1.95" stroke-linejoin="round" stroke-linecap="butt" stroke-dasharray="9.5 30" stroke-dashoffset="0"/>
<rect x="2.30" y="24.05" width="3.4" height="81.55" fill="#0000ff"/>
<rect x="128.30" y="24.05" width="3.4" height="81.55" fill="#0000ff"/>
</g></g>
<path d="M0.00 109.10 V107.70 M0.00 0 V1.4 M0 0.00 H1.4 M134.10 0.00 H132.70" stroke="#444" stroke-width="0.7"/>
<path d="M33.52 109.10 V107.70 M33.52 0 V1.4 M0 27.27 H1.4 M134.10 27.27 H132.70" stroke="#444" stroke-width="0.7"/>
<path d="M67.05 109.10 V107.70 M67.05 0 V1.4 M0 54.55 H1.4 M134.10 54.55 H132.70" stroke="#444" stroke-width="0.7"/>
<path d="M100.57 109.10 V107.70 M100.57 0 V1.4 M0 81.82 H1.4 M134.10 81.82 H132.70" stroke="#444" stroke-width="0.7"/>
<path d="M134.10 109.10 V107.70 M134.10 0 V1.4 M0 109.10 H1.4 M134.10 109.10 H132.70" stroke="#444" stroke-width="0.7"/>
<text x="0.20" y="122.00" text-anchor="middle" font-size="9.5" fill="#333333">-1</text>
<text x="33.73" y="122.00" text-anchor="middle" font-size="9.5" fill="#333333">-0.5</text>
<text x="67.25" y="122.00" text-anchor="middle" font-size="9.5" fill="#333333">0</text>
<text x="100.77" y="122.00" text-anchor="middle" font-size="9.5" fill="#333333">0.5</text>
<text x="134.30" y="122.00" text-anchor="middle" font-size="9.5" fill="#333333">1</text>
<text x="-3.90" y="112.50" text-anchor="end" font-size="9.5" fill="#333333">0</text>
<text x="-3.90" y="85.22" text-anchor="end" font-size="9.5" fill="#333333">0.5</text>
<text x="-3.90" y="57.95" text-anchor="end" font-size="9.5" fill="#333333">1</text>
<text x="-3.90" y="30.68" text-anchor="end" font-size="9.5" fill="#333333">1.5</text>
<text x="-3.90" y="3.40" text-anchor="end" font-size="9.5" fill="#333333">2</text>
<path d="M1.10 -6.80 L5.10 -3.10 M1.10 -3.10 L5.10 -6.80" stroke="#333333" stroke-width="0.95" fill="none"/>
<text x="7.45" y="-2.80" font-size="8.6" fill="#333333">10</text>
<text x="18.70" y="-7.50" font-size="5.8" fill="#333333">4</text>
<path d="M112.40 132.25 L116.40 135.95 M112.40 135.95 L116.40 132.25" stroke="#333333" stroke-width="0.95" fill="none"/>
<text x="118.40" y="136.10" font-size="8.6" fill="#333333">10</text>
<text x="129.30" y="131.30" font-size="5.8" fill="#333333">4</text>
<text x="64.20" y="15.50" text-anchor="middle" font-size="10.2" fill="#222">The 9th round of VNS</text>
<text x="67.05" y="136.10" text-anchor="middle" font-size="10.3" fill="#333333">O1XY X axis(m)</text>
<text transform="translate(-21.40 54.75) rotate(-90)" text-anchor="middle" font-size="10.2" fill="#333333">O1XY Y axis(m)</text>
</g>
</svg>
</body></html>
